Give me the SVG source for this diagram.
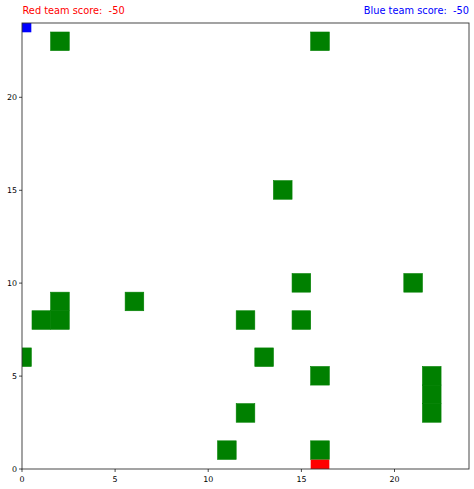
<svg xmlns="http://www.w3.org/2000/svg" width="474" height="489" viewBox="0 0 474 489">
<style>
.t{font-family:"DejaVu Sans",sans-serif;font-size:7.9px;fill:#000}
.g{fill:#008000;stroke:#008000;stroke-width:0.6}
.tk{stroke:#000;stroke-width:0.7}
.ttl{font-family:"DejaVu Sans",sans-serif;font-size:9.8px;white-space:pre}
</style>
<defs><clipPath id="ax"><rect x="22" y="23" width="447" height="446"/></clipPath></defs>
<rect width="474" height="489" fill="#fff"/>
<text class="ttl" x="22.5" y="13.5" fill="#ff0000" xml:space="preserve">Red team score:  -50</text>
<text class="ttl" x="469" y="13.5" text-anchor="end" fill="#0000ff" xml:space="preserve">Blue team score:  -50</text>
<g id="cells" clip-path="url(#ax)">
<g id="c-2-23"><rect class="g" x="50.63" y="32.0" width="18.63" height="18.58"/></g>
<g id="c-16-23"><rect class="g" x="310.69" y="32.0" width="18.63" height="18.58"/></g>
<g id="c-14-15"><rect class="g" x="273.44" y="180.67" width="18.63" height="18.58"/></g>
<g id="c-15-10"><rect class="g" x="292.06" y="273.58" width="18.63" height="18.58"/></g>
<g id="c-21-10"><rect class="g" x="403.81" y="273.58" width="18.63" height="18.58"/></g>
<g id="c-2-9"><rect class="g" x="50.63" y="292.17" width="18.63" height="18.58"/></g>
<g id="c-6-9"><rect class="g" x="125.13" y="292.17" width="18.63" height="18.58"/></g>
<g id="c-1-8"><rect class="g" x="32.0" y="310.75" width="18.63" height="18.58"/></g>
<g id="c-2-8"><rect class="g" x="50.63" y="310.75" width="18.63" height="18.58"/></g>
<g id="c-12-8"><rect class="g" x="236.19" y="310.75" width="18.63" height="18.58"/></g>
<g id="c-15-8"><rect class="g" x="292.06" y="310.75" width="18.63" height="18.58"/></g>
<g id="c-0-6"><rect class="g" x="12.69" y="347.92" width="18.63" height="18.58"/></g>
<g id="c-13-6"><rect class="g" x="254.81" y="347.92" width="18.63" height="18.58"/></g>
<g id="c-16-5"><rect class="g" x="310.69" y="366.5" width="18.63" height="18.58"/></g>
<g id="c-22-5"><rect class="g" x="422.44" y="366.5" width="18.63" height="18.58"/></g>
<g id="c-22-4"><rect class="g" x="422.44" y="385.08" width="18.63" height="18.58"/></g>
<g id="c-22-3"><rect class="g" x="422.44" y="403.67" width="18.63" height="18.58"/></g>
<g id="c-12-3"><rect class="g" x="236.19" y="403.67" width="18.63" height="18.58"/></g>
<g id="c-11-1"><rect class="g" x="217.56" y="440.83" width="18.63" height="18.58"/></g>
<g id="c-16-1"><rect class="g" x="310.69" y="440.83" width="18.63" height="18.58"/></g>
<g id="red"><rect fill="#ff0000" x="310.69" y="459.71" width="18.63" height="18.58"/></g>
<g id="blue"><rect fill="#0000ff" x="12.69" y="13.71" width="18.63" height="18.58"/></g>
</g>
<g id="axes">
<rect x="22" y="23" width="447" height="446" fill="none" stroke="#333" stroke-width="0.9"/>
<path class="tk" d="M22 469v3M115.1 469v3M208.2 469v3M301.4 469v3M394.5 469v3M22 469h-3M22 376.1h-3M22 283.1h-3M22 190.3h-3M22 97.3h-3"/>
<g class="t" text-anchor="middle">
<text x="22" y="481.5">0</text>
<text x="115.1" y="481.5">5</text>
<text x="208.2" y="481.5">10</text>
<text x="301.4" y="481.5">15</text>
<text x="394.5" y="481.5">20</text>
</g>
<g class="t" text-anchor="end">
<text x="17" y="471.8">0</text>
<text x="17" y="378.9">5</text>
<text x="17" y="285.9">10</text>
<text x="17" y="193.1">15</text>
<text x="17" y="100.1">20</text>
</g>
</g>
</svg>
